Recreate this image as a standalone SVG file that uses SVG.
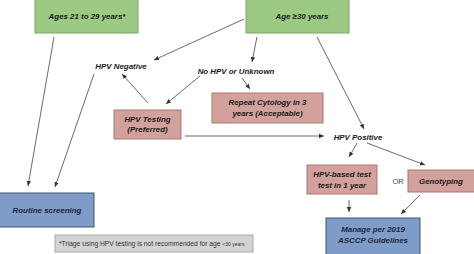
<svg xmlns="http://www.w3.org/2000/svg" width="474" height="254" viewBox="0 0 474 254">
<style>
.green{fill:#9cc983;stroke:#7fa866;stroke-width:1}
.red{fill:#d3a19c;stroke:#a97671;stroke-width:1}
.blue{fill:#7f9bc7;stroke:#3e5679;stroke-width:1}
.grey{fill:#d3d3d3;stroke:#a9a9a9;stroke-width:1}
.t{font-family:"Liberation Sans",Arial,sans-serif;font-weight:bold;font-style:italic;font-size:7.9px;text-anchor:middle;fill:#1a1a1a}
.tb{fill:#1c2740}
.n{font-family:"Liberation Sans",Arial,sans-serif;font-size:6.7px;fill:#333}
.c line{stroke:#444;stroke-width:0.8;marker-end:url(#ah)}
</style>
<defs>
<marker id="ah" markerWidth="6" markerHeight="6" refX="5" refY="3" orient="auto" markerUnits="userSpaceOnUse">
<path d="M0,0.8 L5,3 L0,5.2 z" fill="#333"/>
</marker>
</defs>
<rect width="474" height="254" fill="#fff"/>
<g id="ages21">
<rect class="green" x="35" y="-1" width="103" height="34"/>
<text class="t" x="87" y="18.5">Ages 21 to 29 years*</text>
</g>
<g id="age30">
<rect class="green" x="246" y="-1" width="103" height="34"/>
<text class="t" x="302" y="18.5">Age ≥30 years</text>
</g>
<g id="hpvneg">
<text class="t" x="121" y="69">HPV Negative</text>
</g>
<g id="nohpv">
<text class="t" x="236" y="74">No HPV or Unknown</text>
</g>
<g id="repeat">
<rect class="red" x="212" y="93" width="111" height="30"/>
<text class="t" x="267.5" y="105">Repeat Cytology in 3</text>
<text class="t" x="267.5" y="116">years (Acceptable)</text>
</g>
<g id="hpvtest">
<rect class="red" x="114" y="110" width="67" height="29"/>
<text class="t" x="147.5" y="122">HPV Testing</text>
<text class="t" x="147.5" y="132">(Preferred)</text>
</g>
<g id="hpvpos">
<text class="t" x="358" y="140">HPV Positive</text>
</g>
<g id="hpvbased">
<rect class="red" x="307" y="165" width="70" height="29"/>
<text class="t" x="342" y="177">HPV-based test</text>
<text class="t" x="342" y="188">test in 1 year</text>
</g>
<g id="or">
<text x="398" y="184" style="font-family:'Liberation Sans',Arial,sans-serif;font-size:7.5px;text-anchor:middle;fill:#444">OR</text>
</g>
<g id="genotyping">
<rect class="red" x="408" y="170" width="67" height="22"/>
<text class="t" x="441" y="183.5">Genotyping</text>
</g>
<g id="routine">
<rect class="blue" x="-1" y="193" width="95" height="34"/>
<text class="t tb" x="47" y="212.5">Routine screening</text>
</g>
<g id="manage">
<rect class="blue" x="326" y="218" width="94" height="40"/>
<text class="t tb" x="373" y="232">Manage per 2019</text>
<text class="t tb" x="373" y="243">ASCCP Guidelines</text>
</g>
<g id="footnote">
<rect class="grey" x="55" y="235" width="198" height="17"/>
<text class="n" x="59" y="246">*Triage using HPV testing is not recommended for age <tspan font-size="5px">&lt;30 years</tspan></text>
</g>
<g id="connectors" class="c">
<line x1="54" y1="37" x2="28" y2="186"/>
<line x1="94" y1="74" x2="55" y2="187"/>
<line x1="244" y1="19" x2="154" y2="60"/>
<line x1="257" y1="37" x2="252" y2="62"/>
<line x1="200" y1="76" x2="166" y2="104"/>
<line x1="242" y1="78" x2="250" y2="89"/>
<line x1="148" y1="103" x2="122" y2="74"/>
<line x1="317" y1="37" x2="364" y2="129"/>
<line x1="185" y1="136" x2="324" y2="136"/>
<line x1="357" y1="143" x2="349" y2="157"/>
<line x1="367" y1="143" x2="425" y2="165"/>
<line x1="349" y1="200" x2="349" y2="212"/>
<line x1="420" y1="195" x2="401" y2="214"/>
</g>
</svg>
